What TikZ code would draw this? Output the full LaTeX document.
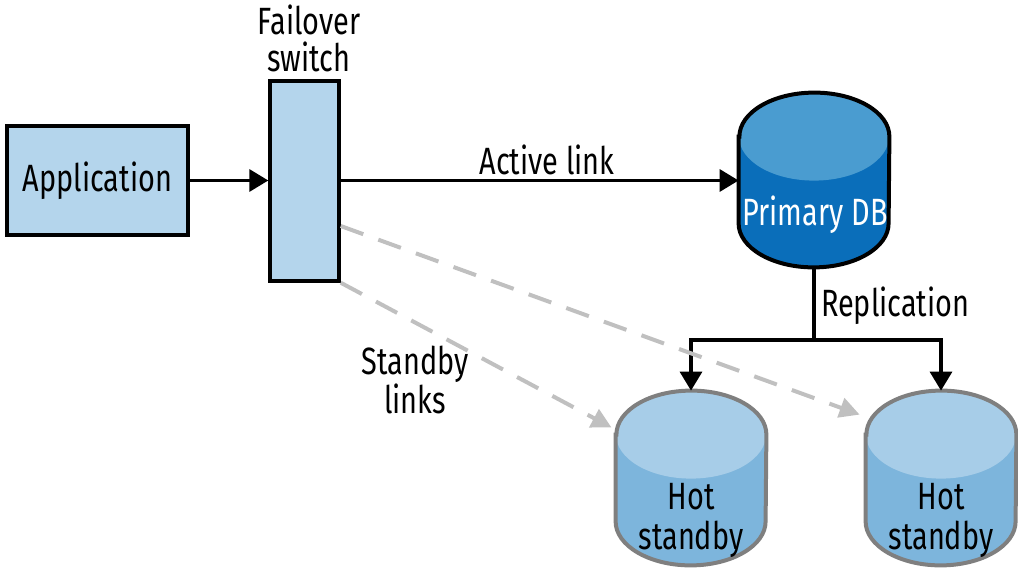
\documentclass[tikz,border=0pt]{standalone}
\usepackage{fontspec}
\setmainfont{Fira Sans}[FakeStretch=0.76]
\usetikzlibrary{arrows.meta,calc,positioning}

\definecolor{appblue}{HTML}{B4D5EC}
\definecolor{dbbody}{HTML}{0A6EBA}
\definecolor{dbtop}{HTML}{4A9CD0}
\definecolor{hsbody}{HTML}{7DB5DC}
\definecolor{hstop}{HTML}{A7CDE8}
\definecolor{hsline}{HTML}{7F7F7F}
\definecolor{linkgray}{HTML}{C0C0C0}

% outline of a cylinder round a named node
\newcommand{\cylpath}[1]{($(#1.north west)+(0,-22pt)$) -- ($(#1.south west)+(0,22pt)$)
    arc[start angle=180, end angle=360, x radius=37.5pt, y radius=22pt]
    -- ($(#1.north east)+(0,-22pt)$)
    arc[start angle=0, end angle=180, x radius=37.5pt, y radius=22pt] -- cycle}
\newcommand{\dbcyl}[4]{%
  \fill[#2] \cylpath{#1};
  \fill[#3] ($(#1.north)+(0,-22pt)$) ellipse[x radius=37.5pt, y radius=22pt];
  \draw[#4, line width=2pt] \cylpath{#1};
}

\begin{document}
\begin{tikzpicture}[x=0.5pt, y=0.5pt, font=\fontsize{19}{18.5}\selectfont,
    box/.style={draw, line width=1.7pt, fill=appblue, inner sep=0pt},
    cylbox/.style={minimum width=75pt, minimum height=87pt, inner sep=0pt},
    link/.style={line width=1.7pt, -{Triangle[length=9.5pt,width=11pt]}},
    stby/.style={line width=2pt, linkgray, dash pattern=on 12pt off 8pt,
      -{Triangle[length=10pt,width=10pt]}}]
  \useasboundingbox (0,0) rectangle (1018,568);

  % Application and failover switch
  \node[box, minimum width=90.5pt, minimum height=54.5pt] (app) at (97.5,387.5) {Application};
  \node[box, minimum width=34.5pt, minimum height=100pt] (switch) at (304.5,387) {};
  \node[align=center] (switch-lbl) at (309,530) {Failover\\switch};

  % Databases
  \node[cylbox] (pdb) at (814,388) {};
  \dbcyl{pdb}{dbbody}{dbtop}{black}
  \node[text=white] (pdb-lbl) at (815,353) {Primary DB};

  \node[cylbox] (hs1) at (691,90) {};
  \dbcyl{hs1}{hsbody}{hstop}{hsline}
  \node[align=center, font=\fontsize{19}{20}\selectfont] (hs1-lbl) at (691,48) {Hot\\standby};

  \node[cylbox] (hs2) at (941,90) {};
  \dbcyl{hs2}{hsbody}{hstop}{hsline}
  \node[align=center, font=\fontsize{19}{20}\selectfont] (hs2-lbl) at (941,48) {Hot\\standby};

  % Active link
  \draw[link] (app.east) -- (app.east -| switch.west);
  \draw[link] (app.east -| switch.east) -- (app.east -| pdb.west);
  \node (act-lbl) at (547,408) {Active link};

  % Replication
  \coordinate (rep) at (814,228);
  \draw[line width=1.7pt] (pdb.south) -- (rep);
  \draw[link] (rep) -| (hs1.north);
  \draw[link] (rep) -| (hs2.north);
  \node[anchor=west] (rep-lbl) at (814,262) {Replication};

  % Standby links
  \draw[stby] ($(switch.east)+(0,-45)$) -- ($(hs2.north west)+(-6,-24)$);
  \draw[stby] (switch.south east) -- ($(hs1.north west)+(-4,-37)$);
  \node[align=center] (stby-lbl) at (415,188) {Standby\\links};
\end{tikzpicture}
\end{document}
